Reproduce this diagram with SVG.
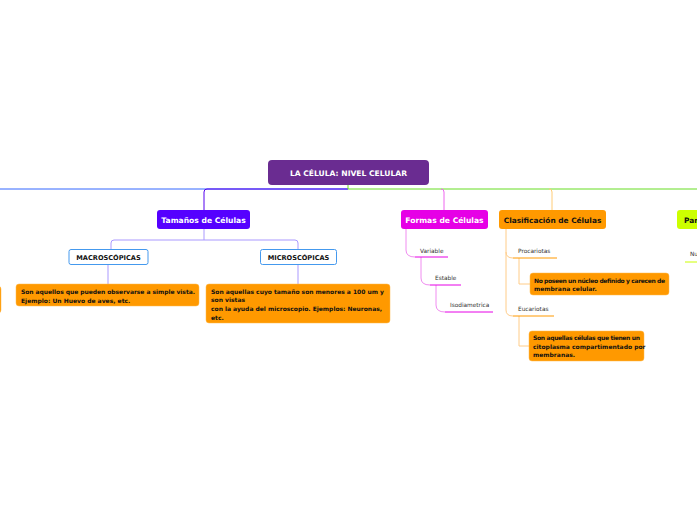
<svg xmlns="http://www.w3.org/2000/svg" width="697" height="520" viewBox="0 0 697 520">
<style>
text{font-family:"DejaVu Sans",Verdana,sans-serif;font-weight:bold}
.t{font-size:7.6px;fill:#fff}
.d{font-size:6px;fill:#111}
.s{font-size:5.8px;fill:#333;font-weight:normal}
.c{fill:none;stroke-width:1}
.o{fill:#ff9900;stroke:#ffb84d;stroke-width:0.5}
</style>
<rect width="697" height="520" fill="#fff"/>
<g id="connectors">
<path class="c" stroke="#3366ff" d="M0 189H348"/>
<path class="c" stroke="#5500ee" d="M348 189H207q-3 0-3 3V210"/>
<path class="c" stroke="#66dd22" d="M348 185V189H697" stroke-width="1.2"/>
<path class="c" stroke="#ee66ee" d="M441 189q3 0 3 3V210"/>
<path class="c" stroke="#ffcc77" d="M549 189q3 0 3 3V210"/>
<path class="c" stroke="#aa99ff" d="M204 229V240M111 249V243q0-3 3-3H295q3 0 3 3V249M108 265V284M298 265V284"/>
<path class="c" stroke="#f08cf0" d="M406 229V250q0 7 9 7M421 257V278q0 7 9 7M436 285V305q0 7 9 7"/>
<path class="c" stroke="#ffcc88" d="M506 229V310q0 6 7 6M506 252q0 6 7 6M519 258V284h11M519 316V346h10"/>
<path class="c" stroke="#e600e6" stroke-width="2.5" d="M415 257H448M430 285H461M445 312H493"/>
<path class="c" stroke="#ff9900" stroke-width="2.5" d="M513 258H557M513 316H554"/>
<path class="c" stroke="#ccff00" stroke-width="2.5" d="M685 262H697"/>
</g>
<g id="root"><rect x="268" y="160" width="161" height="25" rx="4" fill="#6a2c91"/><text class="t" x="348.5" y="176" text-anchor="middle" font-size="8.2">LA CÉLULA: NIVEL CELULAR</text></g>
<g id="tamanos"><rect x="157" y="210" width="93" height="19" rx="3" fill="#5500ff"/><text class="t" x="203.5" y="222.5" text-anchor="middle">Tamaños de Células</text></g>
<g id="macro"><rect x="69" y="249.5" width="79" height="15" rx="2" fill="#fff" stroke="#4499ee"/><text x="108.5" y="260" text-anchor="middle" font-size="6.6" fill="#111">MACROSCÓPICAS</text></g>
<g id="micro"><rect x="260.5" y="249.5" width="76" height="15" rx="2" fill="#fff" stroke="#4499ee"/><text x="298.5" y="260" text-anchor="middle" font-size="6.6" fill="#111">MICROSCÓPICAS</text></g>
<g id="macro-desc"><rect class="o" x="16" y="284" width="183" height="22" rx="3"/><text class="d" x="21" y="293.5" textLength="174">Son aquellos que pueden observarse a simple vista.</text><text class="d" x="21" y="302.5">Ejemplo: Un Huevo de aves, etc.</text></g>
<g id="micro-desc"><rect class="o" x="206" y="284" width="184" height="39" rx="3"/><text class="d" x="211" y="293.5" textLength="173">Son aquellas cuyo tamaño son menores a 100 um y</text><text class="d" x="211" y="302">son vistas</text><text class="d" x="211" y="311" textLength="171">con la ayuda del microscopio. Ejemplos: Neuronas,</text><text class="d" x="211" y="320">etc.</text></g>
<g id="left-clip"><rect class="o" x="-10" y="286" width="11" height="27" rx="3"/></g>
<g id="formas"><rect x="401" y="210" width="87" height="19" rx="3" fill="#e600e6"/><text class="t" x="444.5" y="222.5" text-anchor="middle">Formas de Células</text></g>
<g id="variable"><text class="s" x="420" y="253">Variable</text></g>
<g id="estable"><text class="s" x="435" y="280">Estable</text></g>
<g id="iso"><text class="s" x="450" y="307">Isodiametrica</text></g>
<g id="clasif"><rect x="499" y="210" width="107" height="19" rx="3" fill="#ff9900"/><text x="552.5" y="222.5" text-anchor="middle" font-size="7.4" fill="#111">Clasificación de Células</text></g>
<g id="procariotas"><text class="s" x="518" y="253">Procariotas</text></g>
<g id="pro-desc"><rect class="o" x="530" y="273" width="139" height="22" rx="3"/><text class="d" x="534" y="283" font-size="5.4" textLength="131">No poseen un núcleo definido y carecen de</text><text class="d" x="534" y="291" font-size="5.4">membrana celular.</text></g>
<g id="eucariotas"><text class="s" x="518" y="311">Eucariotas</text></g>
<g id="eu-desc"><rect class="o" x="529" y="331" width="115" height="30" rx="3"/><text class="d" x="533" y="340" font-size="5.4" textLength="107">Son aquellas células que tienen un</text><text class="d" x="533" y="349" font-size="5.4">citoplasma compartimentado por</text><text class="d" x="533" y="357" font-size="5.4">membranas.</text></g>
<g id="partes"><rect x="677" y="210" width="30" height="19" rx="3" fill="#ccff00"/><text x="684" y="222.5" font-size="7.4" fill="#111">Par</text></g>
<g id="nu"><text class="s" x="690" y="256">Nu</text></g>
</svg>
